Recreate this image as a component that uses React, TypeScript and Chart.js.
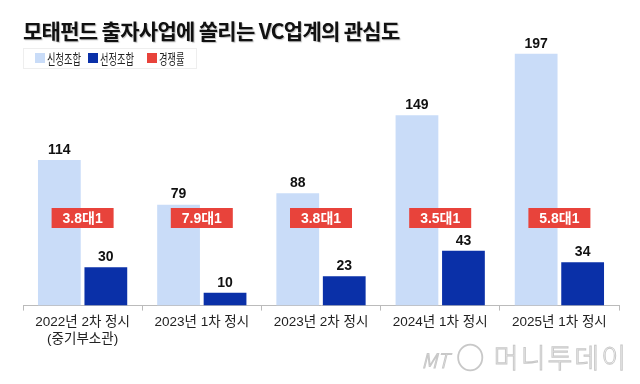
import React, { useEffect, useRef } from "react";
import { Chart, registerables } from "chart.js";

Chart.register(...registerables);

const categories: (string | string[])[] = [
  ["2022년 2차 정시", "(중기부소관)"],
  "2023년 1차 정시",
  "2023년 2차 정시",
  "2024년 1차 정시",
  "2025년 1차 정시",
];
const applied = [114, 79, 88, 149, 197];
const selected = [30, 10, 23, 43, 34];
const ratios = ["3.8", "7.9", "3.8", "3.5", "5.8"];

const LIGHT = "#C9DCF8";
const DARK = "#0A30A8";
const RED = "#E8433B";
const FONT = "'Noto Sans CJK KR', 'Noto Sans', sans-serif";
const NUMFONT = "'Liberation Sans', 'Noto Sans CJK KR', sans-serif";

const labelPlugin = {
  id: "labels",
  afterDatasetsDraw(chart: any) {
    const ctx = chart.ctx;
    ctx.save();
    ctx.font = `bold 14px ${NUMFONT}`;
    ctx.fillStyle = "#111";
    ctx.textAlign = "center";
    ctx.textBaseline = "bottom";
    chart.data.datasets.forEach((ds: any, di: number) => {
      const meta = chart.getDatasetMeta(di);
      meta.data.forEach((bar: any, i: number) => {
        ctx.fillText(String(ds.data[i]), bar.x, bar.y - 3);
      });
    });
    const xs = chart.scales.x;
    const y = 218;
    ratios.forEach((r, i) => {
      const cx = xs.getPixelForValue(i);
      const w = 62;
      const h = 20;
      ctx.fillStyle = RED;
      ctx.fillRect(cx - w / 2, y - h / 2, w, h);
      ctx.fillStyle = "#fff";
      ctx.font = `bold 14px ${NUMFONT}`;
      ctx.textBaseline = "middle";
      ctx.fillText(`${r}대1`, cx, y + 1);
    });
    ctx.restore();
  },
};

const legendItems: [string, string, number][] = [
  ["신청조합", LIGHT, 35],
  ["선정조합", DARK, 88],
  ["경쟁률", RED, 147],
];

export default function App() {
  const ref = useRef<HTMLCanvasElement>(null);
  useEffect(() => {
    document.body.style.margin = "0";
    const chart = new Chart(ref.current!, {
      type: "bar",
      data: {
        labels: categories,
        datasets: [
          { label: "신청조합", data: applied, backgroundColor: LIGHT, categoryPercentage: 0.78, barPercentage: 0.92 },
          { label: "선정조합", data: selected, backgroundColor: DARK, categoryPercentage: 0.78, barPercentage: 0.92 },
        ],
      },
      options: {
        animation: false,
        responsive: false,
        layout: { padding: { left: 23, right: 21, top: 50, bottom: 33 } },
        plugins: { legend: { display: false }, tooltip: { enabled: false }, title: { display: false } },
        scales: {
          x: {
            grid: { display: true, drawOnChartArea: false, drawTicks: true, tickLength: 5, color: "#bbb", offset: true },
            border: { display: true, color: "#bbb" },
            ticks: { color: "#222", font: { family: NUMFONT, size: 13.5 }, padding: 4, maxRotation: 0, autoSkip: false },
          },
          y: { display: false, min: 0, max: 200 },
        },
      },
      plugins: [labelPlugin],
    });
    return () => chart.destroy();
  }, []);

  return (
    <div style={{ position: "relative", width: 640, height: 384, background: "#fff", overflow: "hidden" }}>
      <canvas ref={ref} width={640} height={384} style={{ position: "absolute", left: 0, top: 0 }} />
      <div
        style={{
          position: "absolute", left: 23, top: 15, fontFamily: FONT, fontWeight: 700, fontSize: 21,
          color: "#111", letterSpacing: -0.7, whiteSpace: "nowrap", textShadow: "1px 1px 1px rgba(0,0,0,0.25)",
        }}
      >
        모태펀드 출자사업에 쏠리는 VC업계의 관심도
      </div>
      <div
        style={{
          position: "absolute", left: 23, top: 48, width: 172, height: 19, border: "1px solid #eee", background: "#fff",
        }}
      />
      {legendItems.map(([t, c, x]) => (
        <React.Fragment key={t}>
          <span style={{ position: "absolute", left: x, top: 53, width: 10, height: 10, background: c }} />
          <span
            style={{
              position: "absolute", left: x + 12, top: 48, fontFamily: FONT, fontSize: 14, lineHeight: "20px",
              color: "#222", whiteSpace: "nowrap", transform: "scaleX(0.66)", transformOrigin: "left center",
            }}
          >
            {t}
          </span>
        </React.Fragment>
      ))}
      <div
        style={{
          position: "absolute", right: 12, top: 337, fontFamily: FONT, fontSize: 27, color: "transparent",
          WebkitTextStroke: "1px #c8c8c8", whiteSpace: "nowrap", fontWeight: 300, letterSpacing: 2,
        }}
      >
        <span style={{ fontStyle: "italic", fontSize: 20, letterSpacing: 0 }}>MT</span> ◯ 머니투데이
      </div>
    </div>
  );
}
